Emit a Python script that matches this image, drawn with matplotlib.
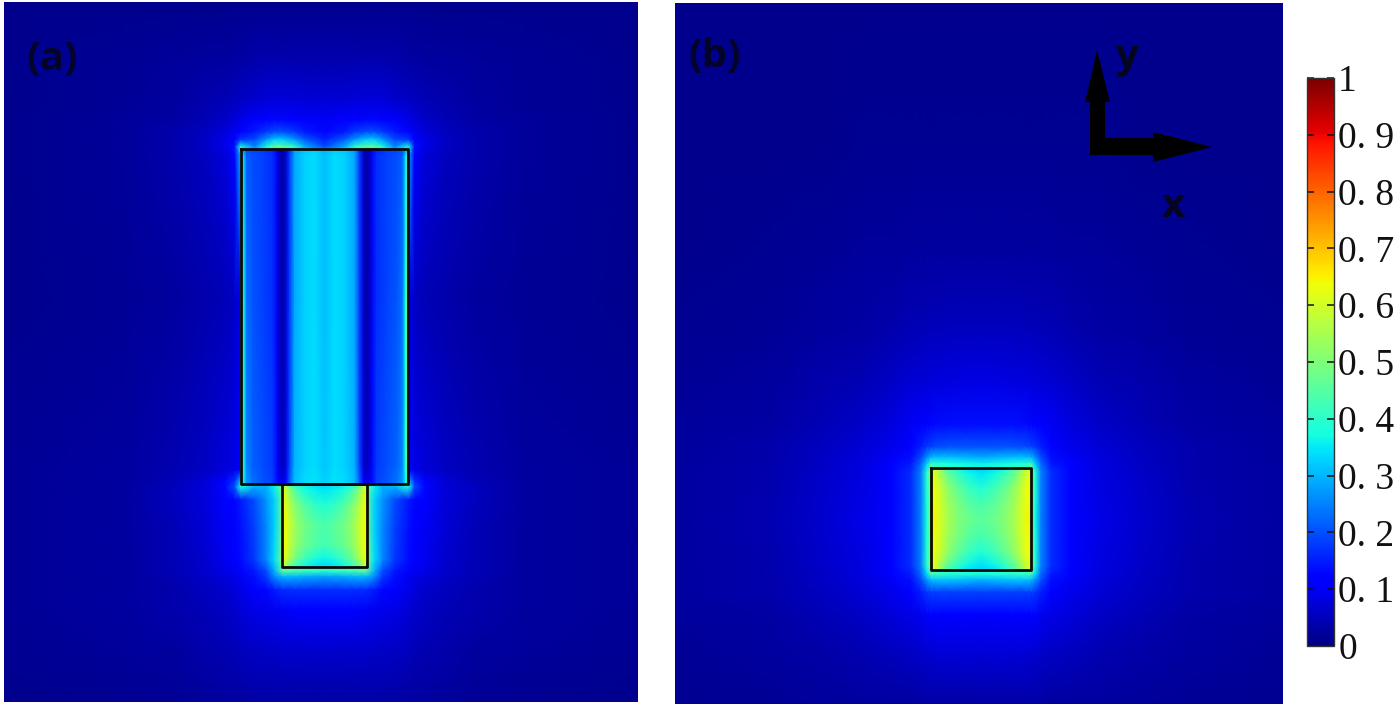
import numpy as np
import matplotlib
matplotlib.use("Agg")
import matplotlib.pyplot as plt
from matplotlib.transforms import ScaledTranslation

W, H = 1400, 708

# ---------- panel (a), values ----------
A_CX = 324.5
A_OUT_D = [0, 20, 30, 42, 50, 58, 70, 84, 90, 100, 120, 150, 200, 330]
A_OUT_Y = [2, 60, 100, 120, 132, 140, 147, 155, 300, 470, 481, 487, 500, 530, 560, 571, 577, 590, 610, 650, 702]
A_OUT_Z = [
 [.015,.015,.015,.015,.015,.015,.015,.015,.015,.015,.015,.015,.015,.012],
 [.04,.04,.04,.04,.04,.04,.04,.035,.035,.03,.03,.025,.02,.015],
 [.075,.078,.08,.08,.08,.08,.07,.06,.055,.05,.04,.03,.02,.015],
 [.105,.11,.12,.13,.13,.125,.11,.09,.08,.065,.05,.035,.025,.015],
 [.13,.15,.18,.20,.20,.18,.15,.125,.10,.08,.055,.04,.025,.015],
 [.16,.22,.28,.33,.33,.28,.20,.18,.12,.09,.06,.04,.025,.015],
 [.20,.30,.40,.46,.46,.38,.26,.38,.14,.09,.06,.04,.025,.015],
 [.3,.3,.3,.3,.3,.3,.3,.30,.12,.08,.055,.04,.025,.015],
 [.3,.3,.3,.3,.3,.3,.3,.10,.06,.05,.04,.03,.02,.015],
 [.3,.3,.3,.3,.3,.3,.3,.12,.09,.08,.06,.045,.03,.02],
 [.3,.3,.3,.3,.3,.3,.3,.30,.17,.11,.075,.05,.03,.02],
 [.4,.4,.4,.48,.36,.30,.30,.38,.20,.13,.08,.055,.03,.02],
 [.4,.4,.4,.48,.33,.27,.20,.15,.13,.11,.08,.055,.03,.02],
 [.4,.4,.4,.48,.33,.26,.19,.14,.125,.105,.075,.05,.03,.02],
 [.4,.4,.4,.50,.34,.26,.18,.135,.12,.10,.07,.05,.03,.02],
 [.40,.42,.44,.46,.30,.20,.15,.11,.10,.09,.07,.05,.03,.02],
 [.28,.29,.30,.30,.26,.18,.14,.10,.09,.08,.065,.045,.03,.02],
 [.17,.17,.17,.165,.15,.13,.11,.09,.08,.07,.055,.04,.03,.02],
 [.11,.11,.11,.105,.10,.095,.09,.075,.07,.06,.05,.04,.03,.02],
 [.07,.07,.07,.07,.065,.065,.06,.055,.05,.045,.04,.03,.025,.018],
 [.035,.035,.035,.035,.035,.035,.035,.03,.03,.03,.025,.02,.018,.012],
]

A_BIG_D = [0, 10, 20, 30, 35, 39, 43, 47, 52, 62, 72, 78, 81, 83.5]
A_BIG_Y = [149, 156, 300, 465, 484]
A_BIG_Z = [
 [.30,.33,.32,.28,.17,.07,.03,.09,.16,.18,.19,.20,.26,.36],
 [.31,.34,.33,.29,.18,.07,.03,.10,.17,.19,.20,.22,.34,.46],
 [.31,.34,.33,.29,.18,.07,.03,.10,.17,.19,.21,.24,.38,.50],
 [.32,.34,.33,.30,.19,.08,.05,.11,.18,.20,.22,.26,.38,.48],
 [.33,.35,.34,.31,.22,.12,.09,.13,.19,.21,.24,.28,.36,.42],
]

A_SMALL_D = [0, 10, 20, 28, 35, 39, 42.5]
A_SMALL_Y = [484, 490, 505, 525, 545, 558, 567]
A_SMALL_Z = [
 [.33,.34,.36,.39,.46,.54,.60],
 [.35,.36,.38,.43,.52,.59,.63],
 [.39,.41,.45,.50,.57,.62,.65],
 [.44,.46,.49,.53,.59,.63,.65],
 [.43,.45,.48,.52,.58,.63,.65],
 [.37,.39,.43,.48,.56,.61,.64],
 [.33,.34,.37,.41,.47,.55,.60],
]
A_RECTS = [(241, 149, 408, 484), (282, 484, 367, 567)]

# ---------- panel (b), values ----------
B_CX = 981
B_OUT_D = [0, 30, 45, 50, 54, 60, 70, 90, 120, 160, 210, 310]
B_OUT_Y = [3, 150, 250, 330, 385, 425, 447, 458, 464, 472, 519, 566, 574, 580, 592, 615, 650, 704]
B_OUT_Z = [
 [.012,.012,.012,.012,.012,.012,.012,.012,.012,.012,.012,.012],
 [.018,.018,.018,.018,.018,.018,.018,.018,.016,.015,.013,.012],
 [.03,.03,.03,.03,.03,.03,.028,.026,.024,.02,.016,.014],
 [.055,.055,.054,.053,.052,.05,.047,.042,.035,.028,.022,.018],
 [.09,.088,.085,.083,.082,.08,.075,.065,.05,.04,.03,.02],
 [.14,.14,.135,.13,.125,.115,.105,.085,.065,.05,.035,.025],
 [.21,.21,.20,.19,.18,.155,.125,.095,.075,.055,.04,.025],
 [.30,.32,.32,.31,.27,.20,.14,.105,.08,.06,.04,.027],
 [.36,.38,.40,.42,.33,.23,.15,.11,.085,.06,.04,.03],
 [.4,.4,.4,.5,.40,.25,.17,.115,.085,.065,.04,.03],
 [.4,.4,.4,.5,.38,.25,.17,.12,.09,.07,.045,.03],
 [.4,.4,.4,.5,.40,.25,.17,.115,.085,.065,.04,.03],
 [.38,.40,.42,.44,.34,.23,.15,.11,.085,.06,.04,.03],
 [.30,.32,.32,.31,.27,.20,.14,.105,.08,.06,.04,.028],
 [.19,.19,.19,.19,.18,.155,.125,.095,.075,.055,.04,.028],
 [.12,.12,.12,.115,.11,.10,.09,.08,.06,.05,.035,.025],
 [.08,.08,.08,.075,.075,.07,.065,.055,.045,.038,.03,.02],
 [.035,.035,.035,.035,.035,.035,.03,.03,.028,.025,.02,.016],
]
B_SQ_D = [0, 12, 24, 34, 42, 47, 50]
B_SQ_Y = [468, 474, 488, 505, 519, 535, 552, 564, 570]
B_SQ_Z = [
 [.33,.34,.38,.44,.54,.60,.62],
 [.35,.37,.42,.48,.57,.62,.64],
 [.39,.42,.47,.53,.60,.64,.65],
 [.44,.46,.50,.55,.61,.64,.66],
 [.46,.48,.51,.56,.61,.65,.66],
 [.44,.46,.50,.55,.61,.64,.66],
 [.39,.42,.47,.53,.60,.64,.65],
 [.35,.37,.42,.48,.57,.62,.64],
 [.33,.34,.38,.44,.54,.60,.62],
]
B_RECTS = [(931, 468, 1031, 570)]

# arrow outlines of the x / y axes sketch
ARROW_X = [1090, 1090, 1153, 1153, 1212, 1153, 1153, 1105, 1105]
ARROW_Y = [155, 155, 155, 162, 147, 132, 138, 138, 155]
ARROW2_X = [1090, 1105, 1105, 1110, 1097, 1085, 1090]
ARROW2_Y = [155, 155, 102, 102, 50, 102, 102]

CBAR_TICKS = [0, .1, .2, .3, .4, .5, .6, .7, .8, .9, 1]
CBAR_LABELS = ["0", "0. 1", "0. 2", "0. 3", "0. 4", "0. 5", "0. 6", "0. 7", "0. 8", "0. 9", "1"]

norm = plt.Normalize(0, 1)
cmap = "jet"
fig = plt.figure(figsize=(W / 100, H / 100), dpi=100, facecolor="white")


def px_axes(x0, y0, x1, y1):
    return fig.add_axes([x0 / W, 1 - y1 / H, (x1 - x0) / W, (y1 - y0) / H])


def mirror_mesh(ax, cx, d, y, z, zorder):
    d = np.asarray(d, float)
    z = np.asarray(z, float)
    x = np.r_[cx - d[:0:-1], cx + d]
    zz = np.hstack([z[:, :0:-1], z])
    return ax.pcolormesh(x, y, zz, shading="gouraud", cmap=cmap, norm=norm, zorder=zorder)


def panel(box, label, label_xy, layers, rects):
    ax = px_axes(*box)
    for i, (cx, d, y, z) in enumerate(layers):
        m = mirror_mesh(ax, cx, d, y, z, 1 + i)
    for x0, y0, x1, y1 in rects:
        ax.plot([x0, x1, x1, x0, x0], [y0, y0, y1, y1, y0], color="#0a0a0a", lw=2.0,
                solid_joinstyle="round", zorder=5)
    ax.set_xlim(box[0], box[2])
    ax.set_ylim(box[3], box[1])
    ax.set_xticks([])
    ax.set_yticks([])
    for s in ax.spines.values():
        s.set_visible(False)
    ax.text(*label_xy, label, family="Open Sans", weight="bold", fontsize=29,
            color="#04042a", ha="center", va="center", zorder=6)
    return ax, m


ax_a, mesh = panel((4, 2, 638, 702), "(a)", (52, 60),
                   [(A_CX, A_OUT_D, A_OUT_Y, A_OUT_Z),
                    (A_CX, A_BIG_D, A_BIG_Y, A_BIG_Z),
                    (A_CX, A_SMALL_D, A_SMALL_Y, A_SMALL_Z)], A_RECTS)
ax_b, mesh = panel((675, 3, 1283, 704), "(b)", (715, 56),
                   [(B_CX, B_OUT_D, B_OUT_Y, B_OUT_Z),
                    (B_CX, B_SQ_D, B_SQ_Y, B_SQ_Z)], B_RECTS)

ax_b.fill(ARROW_X, ARROW_Y, color="black", zorder=7, lw=0)
ax_b.fill(ARROW2_X, ARROW2_Y, color="black", zorder=7, lw=0)
ax_b.text(1127, 57, "y", family="Open Sans", weight="bold", fontsize=29, color="#050520",
          ha="center", va="center", zorder=7)
ax_b.text(1173, 206, "x", family="Open Sans", weight="bold", fontsize=29, color="#050520",
          ha="center", va="center", zorder=7)

cax = px_axes(1307, 78, 1334, 646)
cb = fig.colorbar(mesh, cax=cax)
cb.set_ticks(CBAR_TICKS)
cb.set_ticklabels(CBAR_LABELS)
cb.solids.set_edgecolor("face")
cb.minorticks_off()
cax.tick_params(axis="y", which="major", direction="in", length=5, width=1.1, color="#111111",
                left=True, right=True, labelleft=False, labelright=True, pad=3)
shift = ScaledTranslation(0, -4 / 100, fig.dpi_scale_trans)
for t in cax.get_yticklabels():
    t.set_family("Liberation Serif")
    t.set_fontsize(27)
    t.set_color("#111111")
    t.set_va("center")
    t.set_transform(t.get_transform() + shift)
cb.outline.set_linewidth(1.0)
cb.outline.set_edgecolor("#333333")

fig.savefig("out.png", dpi=100, facecolor="white")
